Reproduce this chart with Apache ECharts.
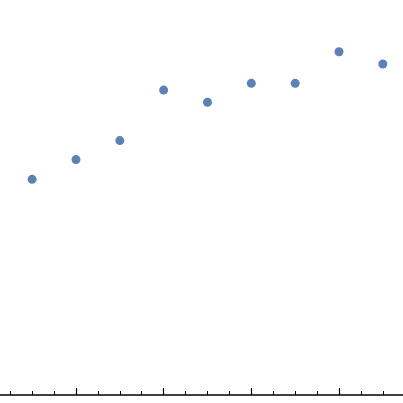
<!DOCTYPE html>
<html>
<head>
<meta charset="utf-8">
<script src="https://cdn.jsdelivr.net/npm/echarts@6/dist/echarts.min.js"></script>
<style>
  html, body { margin: 0; padding: 0; background: #fff; }
  #chart { width: 403px; height: 403px; }
</style>
</head>
<body>
<div id="chart"></div>
<script>
var xValues = [1, 2, 3, 4, 5, 6, 7, 8, 9];
var yValues = [54.6, 59.6, 64.4, 77.2, 74.1, 78.9, 78.9, 86.9, 83.8];
var majorTicks = [2, 4, 6, 8];
var minorTicks = [0.5, 1, 1.5, 2.5, 3, 3.5, 4.5, 5, 5.5, 6.5, 7, 7.5, 8.5, 9];

window.onload = function() {
    var ec = echarts.init(document.getElementById('chart'));
    var points = xValues.map(function(x, i) { return [x, yValues[i]]; });
    var xMin = 0.267, xMax = 9.46;
    ec.setOption({
        animation: false,
        grid: { left: 0, right: 0, top: 0, bottom: 8 },
        xAxis: [{
            type: 'value',
            min: xMin,
            max: xMax,
            axisLine: { show: true, lineStyle: { color: '#000', width: 1.5 } },
            axisTick: {
                show: true,
                inside: true,
                length: 7,
                customValues: majorTicks,
                lineStyle: { color: '#000', width: 1.2 }
            },
            axisLabel: { show: false },
            splitLine: { show: false }
        }, {
            type: 'value',
            position: 'bottom',
            min: xMin,
            max: xMax,
            axisLine: { show: false },
            axisTick: {
                show: true,
                inside: true,
                length: 4,
                customValues: minorTicks,
                lineStyle: { color: '#000', width: 1 }
            },
            axisLabel: { show: false },
            splitLine: { show: false }
        }],
        yAxis: {
            type: 'value',
            min: 0,
            max: 100,
            show: false
        },
        series: [{
            type: 'scatter',
            xAxisIndex: 0,
            symbol: 'circle',
            symbolSize: 9,
            itemStyle: { color: '#5e81b5', opacity: 1 },
            data: points
        }]
    });
};
</script>
</body>
</html>
